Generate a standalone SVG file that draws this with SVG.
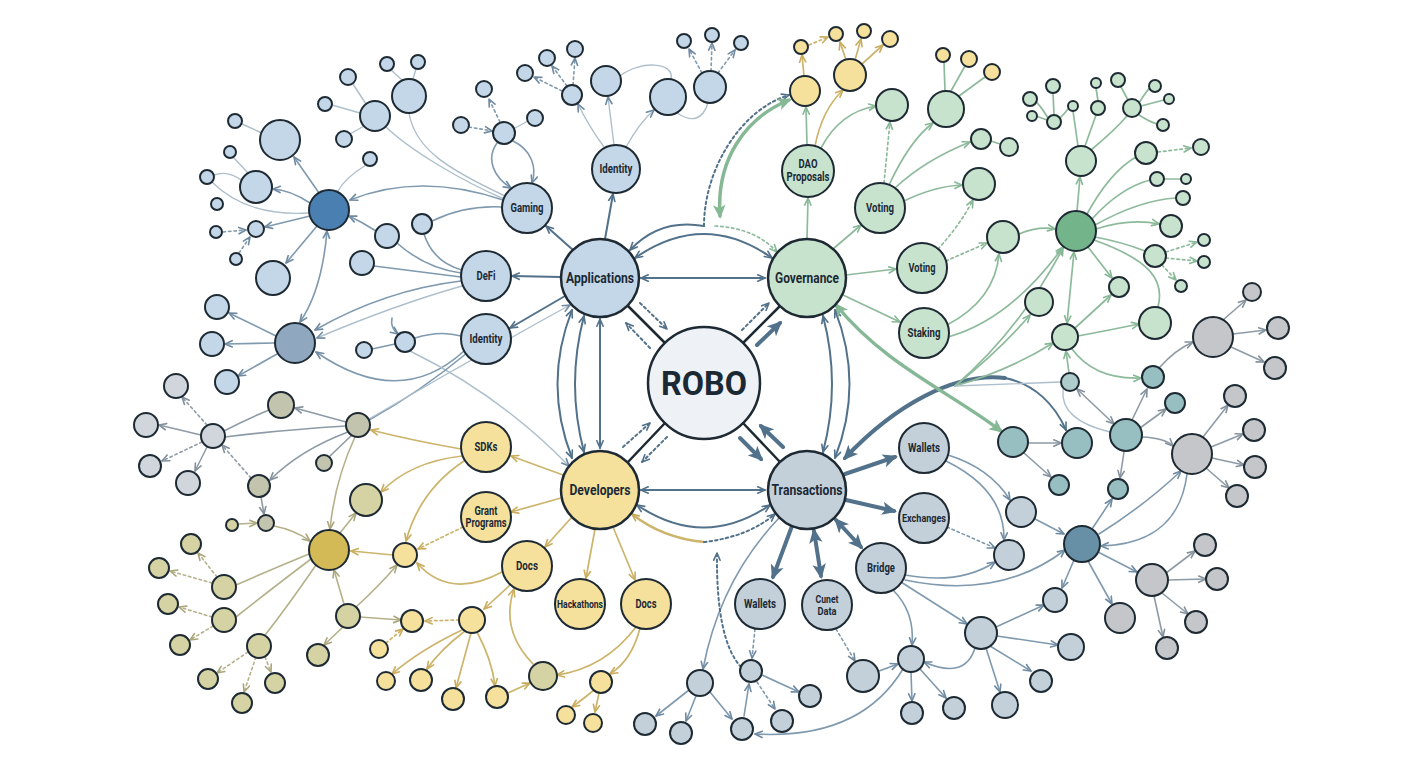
<svg xmlns="http://www.w3.org/2000/svg" width="1408" height="768" viewBox="0 0 1408 768">
<style>
.n{stroke:#1e2a33;stroke-width:2}
.m{stroke-width:2.5}
.b{fill:#c4d7e8}.bd{fill:#4a7fb1}.bm{fill:#8fa8c0}.y{fill:#f6e19c}.yd{fill:#d4ba56}.ol{fill:#d5d3a3}.og{fill:#c3c4ae}.gl{fill:#d0d6db}.g{fill:#c8e3cd}.gd{fill:#73b48b}.t{fill:#97bec0}.tl{fill:#afcccc}.td{fill:#6790a6}.s{fill:#c3d0da}.gr{fill:#c4c6c9}.c{fill:#eef2f7}
#connectors path{fill:none;stroke-linecap:round}
.e{stroke:#52718a;stroke-width:2}
.k{stroke:#1e2a33;stroke-width:2.5}
.et{stroke:#52718a;stroke-width:4}
.gt{stroke:#86b896;stroke-width:3.5}
.eg{stroke:#8dba9b;stroke-width:1.7}
.ey{stroke:#cdb46c;stroke-width:1.7}
.eo{stroke:#b5b18a;stroke-width:1.6}
.eb{stroke:#7f99ae;stroke-width:1.6}
.el{stroke:#aebfcc;stroke-width:1.4}
.er{stroke:#8e9ba6;stroke-width:1.6}
.d{stroke-dasharray:2.5 3}
.An{marker-end:url(#mn)}.Bn{marker-start:url(#mn);marker-end:url(#mn)}
.Af{marker-end:url(#mnf)}.Bf{marker-start:url(#mnf);marker-end:url(#mnf)}
.Ag{marker-end:url(#mg)}.Bg{marker-start:url(#mg);marker-end:url(#mg)}
.Bgf{marker-start:url(#mgf);marker-end:url(#mgf)}
.Ay{marker-end:url(#my)}.Ao{marker-end:url(#mo)}
.Ab{marker-end:url(#mb)}.Bb{marker-start:url(#mb);marker-end:url(#mb)}
.Ar{marker-end:url(#mr)}.Br{marker-start:url(#mr);marker-end:url(#mr)}
.ch{fill:none;stroke-width:1.8;stroke-linejoin:round;stroke-linecap:round}
text{font-family:"Roboto","Liberation Sans",sans-serif;font-weight:700;fill:#1b2935;text-anchor:middle}
.l1{font-size:15px}.l2{font-size:12px}.l3{font-size:11px}
</style>
<defs>
<marker id="mn" viewBox="0 0 10 10" refX="9" refY="5" markerWidth="9" markerHeight="9" markerUnits="userSpaceOnUse" orient="auto-start-reverse"><path class="ch" d="M1,1.5 L9,5 L1,8.5" style="stroke:#52718a"/></marker>
<marker id="mnf" viewBox="0 0 10 10" refX="8" refY="5" markerWidth="15" markerHeight="15" markerUnits="userSpaceOnUse" orient="auto-start-reverse"><path d="M0,0.5 L10,5 L0,9.5 L2.5,5 Z" style="fill:#52718a;stroke:none"/></marker>
<marker id="mg" viewBox="0 0 10 10" refX="9" refY="5" markerWidth="9" markerHeight="9" markerUnits="userSpaceOnUse" orient="auto-start-reverse"><path class="ch" d="M1,1.5 L9,5 L1,8.5" style="stroke:#86b896"/></marker>
<marker id="mgf" viewBox="0 0 10 10" refX="8" refY="5" markerWidth="14" markerHeight="14" markerUnits="userSpaceOnUse" orient="auto-start-reverse"><path d="M0,0.5 L10,5 L0,9.5 L2.5,5 Z" style="fill:#86b896;stroke:none"/></marker>
<marker id="my" viewBox="0 0 10 10" refX="9" refY="5" markerWidth="9" markerHeight="9" markerUnits="userSpaceOnUse" orient="auto-start-reverse"><path class="ch" d="M1,1.5 L9,5 L1,8.5" style="stroke:#c9ad5c"/></marker>
<marker id="mo" viewBox="0 0 10 10" refX="9" refY="5" markerWidth="9" markerHeight="9" markerUnits="userSpaceOnUse" orient="auto-start-reverse"><path class="ch" d="M1,1.5 L9,5 L1,8.5" style="stroke:#aaa67c"/></marker>
<marker id="mb" viewBox="0 0 10 10" refX="9" refY="5" markerWidth="9" markerHeight="9" markerUnits="userSpaceOnUse" orient="auto-start-reverse"><path class="ch" d="M1,1.5 L9,5 L1,8.5" style="stroke:#6f8aa1"/></marker>
<marker id="mr" viewBox="0 0 10 10" refX="9" refY="5" markerWidth="9" markerHeight="9" markerUnits="userSpaceOnUse" orient="auto-start-reverse"><path class="ch" d="M1,1.5 L9,5 L1,8.5" style="stroke:#84919c"/></marker>
</defs>
<rect width="1408" height="768" fill="#ffffff"/>
<g id="connectors">
<!-- central -->
<path class="e Bn" d="M641,278 L765,278"/>
<path class="e Bn" d="M641,490 L765,490"/>
<path class="e Bn" d="M600,319 L600,448"/>
<path class="e Bn" d="M584,316 Q566,384 584,452"/>
<path class="e Bn" d="M572,310 Q543,384 572,458"/>
<path class="e Bn" d="M823,316 Q841,384 823,452"/>
<path class="e Bn" d="M835,310 Q864,384 835,458"/>
<path class="e Bn" d="M635,258 Q704,210 772,258"/>
<path class="e An" d="M704,226 Q660,218 630,250"/>
<path class="e d An" d="M704,226 C704,170 740,110 789,95"/>
<path class="gt Bgf" d="M720,216 C716,160 745,118 789,100"/>
<path class="eg d Ag" d="M715,226 Q755,228 777,252"/>
<path class="e d An" d="M640,303 L667,329"/>
<path class="e d An" d="M650,348 L626,323"/>
<path class="e d An" d="M742,330 L769,303"/>
<path class="e d An" d="M623,447 L650,423"/>
<path class="e d An" d="M667,437 L642,462"/>
<path class="k" d="M628,306 L665,343"/>
<path class="k" d="M780,306 L743,343"/>
<path class="k" d="M628,462 L665,423"/>
<path class="k" d="M743,423 L780,462"/>
<path class="et Af" d="M757,345 L780,323"/>
<path class="et Af" d="M740,438 L761,459"/>
<path class="et Af" d="M783,447 L761,426"/>
<path class="e Bn" d="M637,505 Q704,550 770,505"/>
<path class="ey Ay" d="M704,542 Q662,538 632,514" style="stroke-width:2.5"/>
<path class="e d An" d="M704,542 Q748,537 775,514"/>
<!-- transactions -->
<path class="et Af" d="M845,474 L895,457"/>
<path class="et Af" d="M846,500 L894,511"/>
<path class="et Bf" d="M836,520 L861,547"/>
<path class="et Af" d="M792,526 L773,577"/>
<path class="et Bf" d="M814,531 L821,576"/>
<path class="et" d="M845,458 C895,405 955,372 1005,378" style="marker-start:url(#mnf)"/>
<path class="e An" d="M1005,378 C1035,384 1055,405 1066,430"/>
<path class="gt Bgf" d="M836,305 C885,365 950,392 1001,431"/>
<!-- applications -->
<path class="e An" d="M605,239 L613,194"/>
<path class="e An" d="M573,250 L546,226"/>
<path class="e An" d="M561,277 L512,276"/>
<path class="e An" d="M565,296 L510,328"/>
<!-- governance -->
<path class="eg Ag" d="M807,239 L808,198"/>
<path class="eg Ag" d="M833,249 L861,225"/>
<path class="eg Ag" d="M846,275 L896,269"/>
<path class="eg Ag" d="M843,295 L900,322"/>
<!-- developers -->
<path class="ey Ay" d="M563,475 L511,456"/>
<path class="ey Ay" d="M561,498 L511,512"/>
<path class="ey Ay" d="M572,517 L545,547"/>
<path class="ey Ay" d="M595,529 L586,578"/>
<path class="ey Ay" d="M613,527 L635,580"/>
<!-- left blue -->
<path class="eb Ab" d="M503,200 Q420,172 350,200"/>
<path class="el" d="M504,199 C460,180 410,150 386,127"/>
<path class="el" d="M505,196 C450,170 415,150 409,113"/>
<path class="eb" d="M432,221 Q465,205 502,207"/>
<path class="eb" d="M397,243 Q425,268 461,273"/>
<path class="eb" d="M424,234 Q433,262 462,270"/>
<path class="eb" d="M374,266 L461,277"/>
<path class="eb Ab" d="M461,281 Q385,290 315,330"/>
<path class="el Ab" d="M462,286 Q395,305 317,338"/>
<path class="eb Ab" d="M464,351 Q400,410 316,352"/>
<path class="eb" d="M395,344 L372,349"/>
<path class="eb Ab" d="M392,318 Q390,328 398,334"/>
<path class="eb" d="M415,338 Q440,330 461,336"/>
<path class="el Ab" d="M410,351 Q500,395 569,466"/>
<path class="eb Ab" d="M319,193 L294,157"/>
<path class="eb Ab" d="M310,203 Q290,190 273,189"/>
<path class="eb Ab" d="M310,216 L265,227"/>
<path class="eb Ab" d="M317,226 L286,263"/>
<path class="el" d="M309,213 C260,216 230,200 212,182"/>
<path class="el" d="M214,175 Q228,170 241,180"/>
<path class="el" d="M248,173 L234,158"/>
<path class="el" d="M262,133 L242,124"/>
<path class="el" d="M366,104 L353,84"/>
<path class="el" d="M360,113 L332,105"/>
<path class="el" d="M364,126 L350,134"/>
<path class="el" d="M402,80 L391,70"/>
<path class="el" d="M413,79 L416,69"/>
<path class="el" d="M366,165 Q345,178 338,191"/>
<path class="eb Ab" d="M376,231 Q362,222 349,216"/>
<path class="eb d Ab" d="M223,232 L246,230"/>
<path class="eb d Ab" d="M239,253 L250,237"/>
<path class="eb Bb" d="M327,231 Q322,290 300,322"/>
<path class="eb Ab" d="M276,336 L229,313"/>
<path class="eb Ab" d="M274,343 L225,344"/>
<path class="eb Ab" d="M277,354 L238,376"/>
<path class="eb" d="M467,353 Q420,392 369,420"/>
<!-- top middle -->
<path class="eb d Ab" d="M500,122 L489,99"/>
<path class="eb d Ab" d="M469,127 L492,131"/>
<path class="el" d="M528,121 L515,128"/>
<path class="eb Ab" d="M497,143 C485,160 495,178 511,188"/>
<path class="eb Ab" d="M513,141 C532,150 537,168 532,183"/>
<path class="eb d Ab" d="M562,91 L534,77"/>
<path class="eb d Ab" d="M567,86 L552,66"/>
<path class="eb d Ab" d="M573,85 L575,58"/>
<path class="el Ab" d="M604,147 Q588,125 578,104"/>
<path class="el Ab" d="M614,145 L608,97"/>
<path class="el Ab" d="M626,147 Q640,122 654,110"/>
<path class="el" d="M620,76 C640,60 675,62 671,79"/>
<path class="el" d="M677,113 Q700,128 708,103"/>
<path class="eb d Ab" d="M702,73 L689,49"/>
<path class="eb d Ab" d="M711,71 L712,43"/>
<path class="eb d Ab" d="M718,73 L735,50"/>
<!-- governance periphery -->
<path class="eg Ag" d="M807,145 L806,107"/>
<path class="ey Ay" d="M815,146 Q822,110 843,90"/>
<path class="eg Ag" d="M821,148 Q840,112 876,106"/>
<path class="ey Ay" d="M804,76 L802,55"/>
<path class="ey d Ay" d="M809,45 L828,37"/>
<path class="ey Ay" d="M846,60 L840,42"/>
<path class="ey Ay" d="M855,60 L861,39"/>
<path class="ey Ay" d="M862,64 L883,45"/>
<path class="eg d Ag" d="M884,183 L890,122"/>
<path class="eg Ag" d="M889,185 Q910,140 933,123"/>
<path class="eg Ag" d="M895,188 Q925,160 970,142"/>
<path class="eg Ag" d="M904,201 Q935,186 962,185"/>
<path class="eg" d="M945,91 L944,62"/>
<path class="eg" d="M951,91 L965,66"/>
<path class="eg" d="M959,96 L985,77"/>
<path class="eg" d="M991,141 L1000,144"/>
<path class="eg d Ag" d="M938,249 Q960,225 973,200"/>
<path class="eg d Ag" d="M946,261 L987,243"/>
<path class="eg Ag" d="M947,325 Q995,300 999,254"/>
<path class="eg Ag" d="M948,337 Q1010,320 1063,247"/>
<path class="eg Ag" d="M1019,234 Q1038,226 1055,229"/>
<path class="eg Ag" d="M955,386 Q1000,350 1030,315"/>
<path class="eg Ag" d="M955,386 Q1020,330 1063,248"/>
<path class="eg Ag" d="M955,386 Q1010,370 1053,343"/>
<path class="el" d="M955,386 L1060,382"/>
<!-- green hub -->
<path class="eg Ag" d="M1077,211 L1080,177"/>
<path class="eg" d="M1078,146 Q1075,125 1073,111"/>
<path class="eg" d="M1085,146 L1096,115"/>
<path class="eg" d="M1091,150 Q1115,130 1127,116"/>
<path class="eg" d="M1054,115 L1053,93"/>
<path class="eg" d="M1048,118 Q1040,105 1036,102"/>
<path class="eg" d="M1060,118 Q1068,110 1069,107"/>
<path class="eg" d="M1036,116 L1047,120"/>
<path class="eg" d="M1098,101 L1096,88"/>
<path class="eg" d="M1128,100 L1121,87"/>
<path class="eg" d="M1139,103 Q1147,90 1150,88"/>
<path class="eg" d="M1141,106 L1164,100"/>
<path class="eg" d="M1139,115 Q1150,122 1157,124"/>
<path class="eg" d="M1087,214 Q1110,172 1136,157"/>
<path class="eg d Ag" d="M1158,152 L1191,148"/>
<path class="eg" d="M1092,219 Q1120,188 1150,180"/>
<path class="eg" d="M1164,179 L1181,179"/>
<path class="eg" d="M1095,225 Q1140,200 1176,198"/>
<path class="eg Ag" d="M1096,229 Q1130,218 1159,224"/>
<path class="eg" d="M1095,237 Q1122,242 1145,251"/>
<path class="eg d Ag" d="M1166,252 L1197,242"/>
<path class="eg d Ag" d="M1166,258 L1197,261"/>
<path class="eg d Ag" d="M1162,265 L1176,280"/>
<path class="eg Ag" d="M1088,247 L1112,278"/>
<path class="eg" d="M1094,240 C1150,260 1165,280 1158,307"/>
<path class="eg Bg" d="M1074,252 L1067,323"/>
<path class="eg Ag" d="M1075,328 L1111,295"/>
<path class="eg Ag" d="M1078,336 Q1110,330 1139,324"/>
<path class="eg Ag" d="M1072,349 Q1095,380 1141,378"/>
<path class="eg Ag" d="M1069,373 L1066,351"/>
<!-- teal / gray right -->
<path class="er Br" d="M1077,389 L1114,424"/>
<path class="el" d="M1063,390 Q1060,420 1110,432"/>
<path class="er Ar" d="M1132,420 L1147,389"/>
<path class="er Ar" d="M1140,428 L1166,409"/>
<path class="er Ar" d="M1142,437 Q1165,438 1173,446"/>
<path class="er Ar" d="M1124,452 L1120,478"/>
<path class="er Ar" d="M1160,367 Q1175,350 1193,342"/>
<path class="er Ar" d="M1223,320 L1246,300"/>
<path class="er Ar" d="M1233,334 L1266,330"/>
<path class="er Ar" d="M1231,347 L1264,362"/>
<path class="er Ar" d="M1203,437 L1228,405"/>
<path class="er Ar" d="M1211,447 L1243,434"/>
<path class="er Ar" d="M1212,458 L1244,465"/>
<path class="er Ar" d="M1206,468 L1229,488"/>
<path class="er Ar" d="M1029,443 L1061,443"/>
<path class="er Ar" d="M1024,453 L1051,477"/>
<path class="eb Ab" d="M1099,534 Q1145,505 1181,471"/>
<path class="eb Ab" d="M1187,474 C1180,530 1140,545 1101,546"/>
<path class="eb Ab" d="M1092,529 L1112,499"/>
<path class="eb Ab" d="M1098,552 L1137,572"/>
<path class="eb Ab" d="M1088,561 L1112,604"/>
<path class="eb Ab" d="M1074,560 L1062,588"/>
<path class="eb Ab" d="M1035,519 L1064,534"/>
<path class="er Ar" d="M1166,573 L1195,551"/>
<path class="er Ar" d="M1168,580 L1206,579"/>
<path class="er Ar" d="M1162,593 L1188,614"/>
<path class="er Ar" d="M1154,596 L1163,637"/>
<path class="eb Ab" d="M948,455 Q990,468 1010,500"/>
<path class="eb Ab" d="M946,461 Q1005,490 1004,540"/>
<path class="eb d Ab" d="M947,527 L995,548"/>
<path class="eb Ab" d="M905,575 Q960,585 995,562"/>
<path class="eb Ab" d="M905,580 Q1000,600 1065,550"/>
<path class="eb Ab" d="M893,590 Q915,612 912,645"/>
<path class="eb Ab" d="M901,582 L967,624"/>
<path class="eb Ab" d="M996,627 L1044,605"/>
<path class="eb Ab" d="M997,636 L1058,645"/>
<path class="eb Ab" d="M990,646 L1031,671"/>
<path class="eb Ab" d="M986,648 L1000,692"/>
<path class="eb Ab" d="M975,648 Q965,680 924,662"/>
<path class="eb Ab" d="M879,671 L898,664"/>
<path class="eb Ab" d="M911,672 L912,701"/>
<path class="eb Ab" d="M920,669 L946,698"/>
<path class="eb d Ab" d="M836,629 L855,661"/>
<path class="eb d Ab" d="M755,629 L752,658"/>
<path class="eb Ab" d="M762,675 L799,692"/>
<path class="eb d Ab" d="M757,682 L775,709"/>
<path class="eb Ab" d="M744,716 L749,684"/>
<path class="eb Ab" d="M903,669 Q860,740 755,734"/>
<path class="eb Ab" d="M779,518 Q720,580 703,669"/>
<path class="eb Ab" d="M689,690 L656,716"/>
<path class="eb Ab" d="M696,696 L686,721"/>
<path class="eb Ab" d="M710,692 L732,719"/>
<path class="e d An" d="M741,667 Q716,640 717,553"/>
<!-- yellow / olive -->
<path class="ey Ay" d="M640,628 Q632,660 610,674"/>
<path class="ey Ay" d="M636,627 Q605,668 557,675"/>
<path class="ey Ay" d="M594,690 Q582,700 572,707"/>
<path class="ey Ay" d="M599,693 L595,712"/>
<path class="ey Ay" d="M533,664 Q500,630 514,589"/>
<path class="ey Ay" d="M510,585 L484,609"/>
<path class="ey Ay" d="M502,572 Q450,600 417,563"/>
<path class="ey d Ay" d="M459,620 L425,621"/>
<path class="ey Ay" d="M462,630 Q420,650 392,674"/>
<path class="ey Ay" d="M465,631 Q440,650 427,669"/>
<path class="ey Ay" d="M471,633 L456,688"/>
<path class="ey Ay" d="M477,632 Q492,660 495,686"/>
<path class="ey Ay" d="M508,693 L530,683"/>
<path class="ey d Ay" d="M386,643 L403,629"/>
<path class="eo Ao" d="M360,617 L401,620"/>
<path class="eo Ao" d="M356,607 Q380,585 397,565"/>
<path class="eo Ao" d="M344,604 L334,570"/>
<path class="eo Ao" d="M343,627 L324,645"/>
<path class="ey Ay" d="M393,555 L351,551"/>
<path class="ey Ay" d="M461,449 Q410,440 371,430"/>
<path class="ey Ay" d="M462,456 Q410,462 381,492"/>
<path class="ey Ay" d="M464,461 Q420,490 406,541"/>
<path class="ey d Ay" d="M463,527 L418,549"/>
<path class="eo Ao" d="M340,533 L356,513"/>
<path class="eo Ao" d="M355,437 Q335,480 330,529"/>
<path class="eo" d="M309,554 Q270,570 236,585"/>
<path class="eo" d="M311,559 Q270,590 236,617"/>
<path class="eo" d="M316,565 Q285,610 265,635"/>
<path class="eo d Ao" d="M217,577 L198,553"/>
<path class="eo d Ao" d="M212,583 L170,571"/>
<path class="eo d Ao" d="M212,617 L179,607"/>
<path class="eo d Ao" d="M213,626 L190,640"/>
<path class="eo d Ao" d="M248,652 L217,673"/>
<path class="eo d Ao" d="M256,657 L244,692"/>
<path class="eo d Ao" d="M265,657 L271,672"/>
<path class="eo Ao" d="M274,526 Q295,530 310,541"/>
<path class="eo Ao" d="M239,524 L257,523"/>
<path class="er Ar" d="M261,497 L264,514"/>
<path class="er Ar" d="M348,432 Q300,450 270,480"/>
<path class="er Ar" d="M346,422 L295,408"/>
<path class="er" d="M346,426 Q280,430 225,437"/>
<path class="er" d="M352,435 L330,456"/>
<path class="er" d="M269,410 Q245,420 224,431"/>
<path class="er d Ar" d="M207,425 L182,397"/>
<path class="er Ar" d="M201,435 L159,425"/>
<path class="er d Ar" d="M202,442 L162,461"/>
<path class="er Ar" d="M207,447 L195,471"/>
<path class="er d Ar" d="M251,478 L222,445"/>
<path class="el Ab" d="M369,419 Q470,360 570,305"/>
</g>
<!-- main nodes -->
<g id="robo"><circle class="n m c" cx="704" cy="383" r="56"/><text x="704" y="395" style="font-size:34px" textLength="86" lengthAdjust="spacingAndGlyphs">ROBO</text></g>
<g id="applications"><circle class="n m b" cx="600" cy="278" r="39"/><text class="l1" x="600" y="283" textLength="68" lengthAdjust="spacingAndGlyphs">Applications</text></g>
<g id="governance"><circle class="n m g" cx="807" cy="278" r="39"/><text class="l1" x="807" y="283" textLength="64" lengthAdjust="spacingAndGlyphs">Governance</text></g>
<g id="developers"><circle class="n m y" cx="600" cy="490" r="39"/><text class="l1" x="600" y="495" textLength="61" lengthAdjust="spacingAndGlyphs">Developers</text></g>
<g id="transactions"><circle class="n m s" cx="807" cy="490" r="39"/><text class="l1" x="807" y="495" textLength="71" lengthAdjust="spacingAndGlyphs">Transactions</text></g>
<!-- labelled nodes -->
<g id="identity-top"><circle class="n b" cx="616" cy="169" r="24"/><text class="l2" x="616" y="173" textLength="33" lengthAdjust="spacingAndGlyphs">Identity</text></g>
<g id="gaming"><circle class="n b" cx="527" cy="208" r="25"/><text class="l2" x="527" y="212" textLength="33" lengthAdjust="spacingAndGlyphs">Gaming</text></g>
<g id="defi"><circle class="n b" cx="486" cy="276" r="25"/><text class="l2" x="486" y="280" textLength="19" lengthAdjust="spacingAndGlyphs">DeFi</text></g>
<g id="identity"><circle class="n b" cx="486" cy="339" r="25"/><text class="l2" x="486" y="343" textLength="33" lengthAdjust="spacingAndGlyphs">Identity</text></g>
<g id="dao"><circle class="n g" cx="808" cy="171" r="26"/><text class="l2" x="808" y="168" textLength="19" lengthAdjust="spacingAndGlyphs">DAO</text><text class="l2" x="808" y="181" textLength="43" lengthAdjust="spacingAndGlyphs">Proposals</text></g>
<g id="voting1"><circle class="n g" cx="880" cy="208" r="25"/><text class="l2" x="880" y="212" textLength="28" lengthAdjust="spacingAndGlyphs">Voting</text></g>
<g id="voting2"><circle class="n g" cx="922" cy="268" r="25"/><text class="l2" x="922" y="272" textLength="27" lengthAdjust="spacingAndGlyphs">Voting</text></g>
<g id="staking"><circle class="n g" cx="924" cy="333" r="25"/><text class="l2" x="924" y="337" textLength="33" lengthAdjust="spacingAndGlyphs">Staking</text></g>
<g id="sdks"><circle class="n y" cx="486" cy="447" r="25"/><text class="l2" x="486" y="451" textLength="23" lengthAdjust="spacingAndGlyphs">SDKs</text></g>
<g id="grants"><circle class="n y" cx="486" cy="517" r="25"/><text class="l2" x="486" y="515" textLength="23" lengthAdjust="spacingAndGlyphs">Grant</text><text class="l2" x="486" y="527" textLength="41" lengthAdjust="spacingAndGlyphs">Programs</text></g>
<g id="docs1"><circle class="n y" cx="527" cy="566" r="25"/><text class="l2" x="527" y="570" textLength="22" lengthAdjust="spacingAndGlyphs">Docs</text></g>
<g id="hackathons"><circle class="n y" cx="580" cy="604" r="25"/><text class="l3" x="580" y="608" textLength="46" lengthAdjust="spacingAndGlyphs">Hackathons</text></g>
<g id="docs2"><circle class="n y" cx="646" cy="604" r="25"/><text class="l2" x="646" y="608" textLength="21" lengthAdjust="spacingAndGlyphs">Docs</text></g>
<g id="wallets1"><circle class="n s" cx="924" cy="448" r="25"/><text class="l2" x="924" y="452" textLength="32" lengthAdjust="spacingAndGlyphs">Wallets</text></g>
<g id="exchanges"><circle class="n s" cx="924" cy="518" r="25"/><text class="l3" x="924" y="522" textLength="44" lengthAdjust="spacingAndGlyphs">Exchanges</text></g>
<g id="bridge"><circle class="n s" cx="881" cy="568" r="25"/><text class="l2" x="881" y="572" textLength="28" lengthAdjust="spacingAndGlyphs">Bridge</text></g>
<g id="wallets2"><circle class="n s" cx="760" cy="604" r="25"/><text class="l2" x="760" y="608" textLength="32" lengthAdjust="spacingAndGlyphs">Wallets</text></g>
<g id="cunet"><circle class="n s" cx="827" cy="605" r="25"/><text class="l3" x="827" y="603" textLength="23" lengthAdjust="spacingAndGlyphs">Cunet</text><text class="l3" x="827" y="615" textLength="19" lengthAdjust="spacingAndGlyphs">Data</text></g>
<!-- blue left -->
<g id="b1"><circle class="n bd" cx="329" cy="210" r="20"/></g>
<g id="b2"><circle class="n b" cx="280" cy="140" r="20"/></g>
<g id="b3"><circle class="n b" cx="256" cy="187" r="16"/></g>
<g id="b4"><circle class="n b" cx="375" cy="116" r="15"/></g>
<g id="b5"><circle class="n b" cx="409" cy="96" r="17"/></g>
<g id="b6"><circle class="n b" cx="387" cy="64" r="7"/></g>
<g id="b7"><circle class="n b" cx="418" cy="62" r="7"/></g>
<g id="b8"><circle class="n b" cx="348" cy="77" r="8"/></g>
<g id="b9"><circle class="n b" cx="325" cy="104" r="7"/></g>
<g id="b10"><circle class="n b" cx="344" cy="139" r="8"/></g>
<g id="b11"><circle class="n b" cx="370" cy="159" r="7"/></g>
<g id="b12"><circle class="n b" cx="235" cy="121" r="7"/></g>
<g id="b13"><circle class="n b" cx="230" cy="152" r="6"/></g>
<g id="b14"><circle class="n b" cx="207" cy="177" r="7"/></g>
<g id="b15"><circle class="n b" cx="217" cy="204" r="6"/></g>
<g id="b16"><circle class="n b" cx="256" cy="229" r="8"/></g>
<g id="b17"><circle class="n b" cx="216" cy="232" r="6"/></g>
<g id="b18"><circle class="n b" cx="236" cy="259" r="6"/></g>
<g id="b19"><circle class="n b" cx="273" cy="278" r="17"/></g>
<g id="b20"><circle class="n b" cx="387" cy="236" r="12"/></g>
<g id="b21"><circle class="n b" cx="422" cy="224" r="10"/></g>
<g id="b22"><circle class="n b" cx="362" cy="263" r="12"/></g>
<g id="b23"><circle class="n bm" cx="295" cy="343" r="20"/></g>
<g id="b24"><circle class="n b" cx="217" cy="307" r="12"/></g>
<g id="b25"><circle class="n b" cx="212" cy="344" r="12"/></g>
<g id="b26"><circle class="n b" cx="227" cy="382" r="12"/></g>
<g id="b27"><circle class="n b" cx="405" cy="342" r="10"/></g>
<g id="b28"><circle class="n b" cx="364" cy="350" r="8"/></g>
<!-- top middle -->
<g id="t1"><circle class="n b" cx="504" cy="133" r="11"/></g>
<g id="t2"><circle class="n b" cx="461" cy="125" r="8"/></g>
<g id="t3"><circle class="n b" cx="484" cy="89" r="8"/></g>
<g id="t4"><circle class="n b" cx="535" cy="118" r="8"/></g>
<g id="t5"><circle class="n b" cx="572" cy="95" r="10"/></g>
<g id="t6"><circle class="n b" cx="525" cy="73" r="8"/></g>
<g id="t7"><circle class="n b" cx="547" cy="58" r="8"/></g>
<g id="t8"><circle class="n b" cx="575" cy="49" r="8"/></g>
<g id="t9"><circle class="n b" cx="606" cy="81" r="15"/></g>
<g id="t10"><circle class="n b" cx="668" cy="97" r="18"/></g>
<g id="t11"><circle class="n b" cx="710" cy="87" r="16"/></g>
<g id="t12"><circle class="n b" cx="684" cy="41" r="7"/></g>
<g id="t13"><circle class="n b" cx="712" cy="35" r="7"/></g>
<g id="t14"><circle class="n b" cx="741" cy="43" r="7"/></g>
<!-- yellow / green top -->
<g id="y1"><circle class="n y" cx="805" cy="91" r="15"/></g>
<g id="y2"><circle class="n y" cx="850" cy="75" r="16"/></g>
<g id="y3"><circle class="n y" cx="801" cy="47" r="7"/></g>
<g id="y4"><circle class="n y" cx="836" cy="34" r="7"/></g>
<g id="y5"><circle class="n y" cx="864" cy="31" r="7"/></g>
<g id="y6"><circle class="n y" cx="890" cy="39" r="8"/></g>
<g id="y7"><circle class="n y" cx="943" cy="55" r="7"/></g>
<g id="y8"><circle class="n y" cx="969" cy="59" r="8"/></g>
<g id="y9"><circle class="n y" cx="992" cy="72" r="8"/></g>
<g id="g1"><circle class="n g" cx="892" cy="105" r="16"/></g>
<g id="g2"><circle class="n g" cx="946" cy="109" r="18"/></g>
<g id="g3"><circle class="n g" cx="981" cy="139" r="10"/></g>
<g id="g4"><circle class="n g" cx="1009" cy="147" r="9"/></g>
<g id="g5"><circle class="n g" cx="979" cy="184" r="16"/></g>
<g id="g6"><circle class="n g" cx="1003" cy="237" r="16"/></g>
<g id="g7"><circle class="n gd" cx="1076" cy="231" r="20"/></g>
<g id="g8"><circle class="n g" cx="1039" cy="302" r="14"/></g>
<g id="g9"><circle class="n g" cx="1065" cy="337" r="13"/></g>
<g id="g10"><circle class="n g" cx="1119" cy="287" r="10"/></g>
<g id="g11"><circle class="n g" cx="1155" cy="323" r="16"/></g>
<g id="g12"><circle class="n g" cx="1081" cy="161" r="15"/></g>
<g id="g13"><circle class="n g" cx="1030" cy="99" r="7"/></g>
<g id="g14"><circle class="n g" cx="1032" cy="116" r="5"/></g>
<g id="g15"><circle class="n g" cx="1053" cy="86" r="7"/></g>
<g id="g16"><circle class="n g" cx="1054" cy="122" r="7"/></g>
<g id="g17"><circle class="n g" cx="1073" cy="106" r="5"/></g>
<g id="g18"><circle class="n g" cx="1096" cy="83" r="5"/></g>
<g id="g19"><circle class="n g" cx="1098" cy="108" r="7"/></g>
<g id="g20"><circle class="n g" cx="1118" cy="80" r="7"/></g>
<g id="g21"><circle class="n g" cx="1132" cy="108" r="9"/></g>
<g id="g22"><circle class="n g" cx="1155" cy="86" r="6"/></g>
<g id="g23"><circle class="n g" cx="1169" cy="99" r="5"/></g>
<g id="g24"><circle class="n g" cx="1163" cy="125" r="6"/></g>
<g id="g25"><circle class="n g" cx="1146" cy="153" r="11"/></g>
<g id="g26"><circle class="n g" cx="1201" cy="147" r="8"/></g>
<g id="g27"><circle class="n g" cx="1157" cy="179" r="7"/></g>
<g id="g28"><circle class="n g" cx="1186" cy="179" r="5"/></g>
<g id="g29"><circle class="n g" cx="1183" cy="198" r="7"/></g>
<g id="g30"><circle class="n g" cx="1171" cy="226" r="11"/></g>
<g id="g31"><circle class="n g" cx="1155" cy="256" r="11"/></g>
<g id="g32"><circle class="n g" cx="1204" cy="240" r="6"/></g>
<g id="g33"><circle class="n g" cx="1204" cy="262" r="6"/></g>
<g id="g34"><circle class="n g" cx="1181" cy="286" r="6"/></g>
<!-- right teal / gray -->
<g id="r1"><circle class="n tl" cx="1070" cy="382" r="9"/></g>
<g id="r2"><circle class="n t" cx="1153" cy="377" r="11"/></g>
<g id="r3"><circle class="n t" cx="1175" cy="403" r="10"/></g>
<g id="r4"><circle class="n gr" cx="1235" cy="396" r="11"/></g>
<g id="r5"><circle class="n gr" cx="1213" cy="337" r="20"/></g>
<g id="r6"><circle class="n gr" cx="1252" cy="292" r="9"/></g>
<g id="r7"><circle class="n gr" cx="1278" cy="328" r="11"/></g>
<g id="r8"><circle class="n gr" cx="1275" cy="368" r="11"/></g>
<g id="r9"><circle class="n t" cx="1013" cy="442" r="15"/></g>
<g id="r10"><circle class="n t" cx="1077" cy="443" r="15"/></g>
<g id="r11"><circle class="n t" cx="1126" cy="435" r="16"/></g>
<g id="r12"><circle class="n gr" cx="1192" cy="454" r="20"/></g>
<g id="r13"><circle class="n t" cx="1059" cy="485" r="10"/></g>
<g id="r14"><circle class="n t" cx="1118" cy="489" r="10"/></g>
<g id="r15"><circle class="n gr" cx="1254" cy="430" r="11"/></g>
<g id="r16"><circle class="n gr" cx="1255" cy="467" r="11"/></g>
<g id="r17"><circle class="n gr" cx="1237" cy="496" r="11"/></g>
<g id="r18"><circle class="n s" cx="1021" cy="512" r="15"/></g>
<g id="r19"><circle class="n s" cx="1009" cy="555" r="15"/></g>
<g id="r20"><circle class="n td" cx="1082" cy="544" r="18"/></g>
<g id="r21"><circle class="n gr" cx="1152" cy="580" r="16"/></g>
<g id="r22"><circle class="n gr" cx="1205" cy="545" r="11"/></g>
<g id="r23"><circle class="n gr" cx="1217" cy="579" r="11"/></g>
<g id="r24"><circle class="n gr" cx="1196" cy="622" r="11"/></g>
<g id="r25"><circle class="n gr" cx="1167" cy="648" r="11"/></g>
<g id="r26"><circle class="n s" cx="1055" cy="600" r="12"/></g>
<g id="r27"><circle class="n gr" cx="1120" cy="618" r="15"/></g>
<g id="r28"><circle class="n s" cx="981" cy="633" r="16"/></g>
<g id="r29"><circle class="n s" cx="1071" cy="647" r="13"/></g>
<g id="r30"><circle class="n s" cx="1041" cy="681" r="11"/></g>
<g id="r31"><circle class="n s" cx="1005" cy="705" r="13"/></g>
<g id="r32"><circle class="n s" cx="911" cy="659" r="13"/></g>
<g id="r33"><circle class="n s" cx="863" cy="676" r="16"/></g>
<g id="r34"><circle class="n s" cx="912" cy="713" r="11"/></g>
<g id="r35"><circle class="n s" cx="954" cy="708" r="11"/></g>
<g id="r36"><circle class="n s" cx="751" cy="671" r="11"/></g>
<g id="r37"><circle class="n s" cx="810" cy="696" r="11"/></g>
<g id="r38"><circle class="n s" cx="782" cy="721" r="11"/></g>
<g id="r39"><circle class="n s" cx="742" cy="729" r="11"/></g>
<g id="r40"><circle class="n s" cx="700" cy="683" r="13"/></g>
<g id="r41"><circle class="n s" cx="645" cy="724" r="11"/></g>
<g id="r42"><circle class="n s" cx="681" cy="733" r="11"/></g>
<!-- olive / yellow left -->
<g id="o1"><circle class="n gl" cx="176" cy="386" r="12"/></g>
<g id="o2"><circle class="n og" cx="281" cy="405" r="13"/></g>
<g id="o3"><circle class="n og" cx="358" cy="425" r="12"/></g>
<g id="o4"><circle class="n gl" cx="213" cy="436" r="12"/></g>
<g id="o5"><circle class="n gl" cx="146" cy="425" r="12"/></g>
<g id="o6"><circle class="n gl" cx="150" cy="466" r="11"/></g>
<g id="o7"><circle class="n gl" cx="188" cy="483" r="12"/></g>
<g id="o8"><circle class="n og" cx="324" cy="463" r="8"/></g>
<g id="o9"><circle class="n og" cx="259" cy="486" r="11"/></g>
<g id="o10"><circle class="n og" cx="266" cy="523" r="8"/></g>
<g id="o11"><circle class="n ol" cx="232" cy="525" r="6"/></g>
<g id="o12"><circle class="n ol" cx="366" cy="500" r="16"/></g>
<g id="o13"><circle class="n yd" cx="329" cy="550" r="20"/></g>
<g id="o14"><circle class="n y" cx="405" cy="555" r="12"/></g>
<g id="o15"><circle class="n ol" cx="191" cy="544" r="10"/></g>
<g id="o16"><circle class="n ol" cx="159" cy="568" r="10"/></g>
<g id="o17"><circle class="n ol" cx="224" cy="587" r="12"/></g>
<g id="o18"><circle class="n ol" cx="168" cy="604" r="10"/></g>
<g id="o19"><circle class="n ol" cx="224" cy="620" r="12"/></g>
<g id="o20"><circle class="n ol" cx="180" cy="645" r="10"/></g>
<g id="o21"><circle class="n ol" cx="259" cy="646" r="12"/></g>
<g id="o22"><circle class="n ol" cx="208" cy="679" r="10"/></g>
<g id="o23"><circle class="n ol" cx="275" cy="683" r="10"/></g>
<g id="o24"><circle class="n ol" cx="242" cy="703" r="10"/></g>
<g id="o25"><circle class="n ol" cx="348" cy="616" r="12"/></g>
<g id="o26"><circle class="n ol" cx="318" cy="655" r="11"/></g>
<g id="o27"><circle class="n y" cx="412" cy="621" r="11"/></g>
<g id="o28"><circle class="n y" cx="379" cy="649" r="9"/></g>
<g id="o29"><circle class="n y" cx="472" cy="620" r="13"/></g>
<g id="o30"><circle class="n y" cx="386" cy="681" r="9"/></g>
<g id="o31"><circle class="n y" cx="421" cy="680" r="11"/></g>
<g id="o32"><circle class="n y" cx="453" cy="699" r="11"/></g>
<g id="o33"><circle class="n y" cx="497" cy="697" r="11"/></g>
<g id="o34"><circle class="n ol" cx="543" cy="676" r="14"/></g>
<g id="o35"><circle class="n y" cx="601" cy="682" r="11"/></g>
<g id="o36"><circle class="n y" cx="566" cy="715" r="9"/></g>
<g id="o37"><circle class="n y" cx="593" cy="723" r="9"/></g>
</svg>
